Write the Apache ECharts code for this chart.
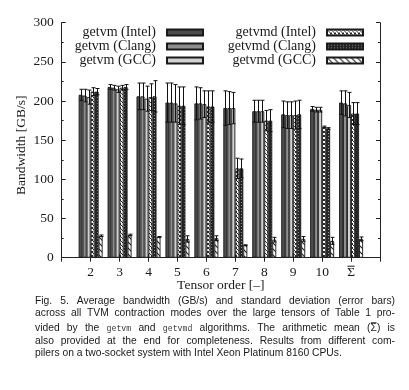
<!DOCTYPE html>
<html><head><meta charset="utf-8">
<script src="https://cdn.jsdelivr.net/npm/echarts@6/dist/echarts.min.js"></script>
<style>html,body{margin:0;padding:0;background:#fff}#c{width:409px;height:390px}</style>
</head><body><div id="c"></div>
<script>
// ---- data ----
const categories = ['2', '3', '4', '5', '6', '7', '8', '9', '10', 'Σ'];   // last one is the mean (drawn with an overline)
const seriesNames = ['getvm (Intel)', 'getvm (Clang)', 'getvm (GCC)', 'getvmd (Intel)', 'getvmd (Clang)', 'getvmd (GCC)'];
const getvmIntel      = [208, 218, 206, 198, 197, 191, 187, 183, 190, 198];
const getvmIntelErr   = [7, 3, 17, 25, 21, 22, 14, 17, 3, 15];
const getvmClang      = [207, 217, 206, 198, 197, 191, 187, 182, 189, 197];
const getvmClangErr   = [8, 3, 17, 25, 20, 21, 14, 17, 3, 16];
const getvmGCC        = [205, 215, 203, 197, 196, 191, 187, 182, 189, 195];
const getvmGCCErr     = [9, 4, 16, 24, 17, 20, 14, 17, 3, 16];
const getvmdIntel     = [212, 217, 205, 194, 193, 114, 175, 182, 167, 184];
const getvmdIntelErr  = [5, 3, 17, 24, 20, 13, 13, 18, 1, 14];
const getvmdClang     = [212, 218, 206, 194, 193, 114, 175, 183, 165, 184];
const getvmdClangErr  = [4, 3, 20, 24, 20, 12, 14, 18, 1, 14];
const getvmdGCC       = [28, 29, 26.5, 24, 25, 16, 23, 24, 21.5, 24];
const getvmdGCCErr    = [1, 1, 0.5, 4, 3, 0.5, 3, 3, 4.5, 2.5];
const yTicks = [0, 50, 100, 150, 200, 250, 300];
const captionLines = [
  'Fig. 5. Average bandwidth (GB/s) and standard deviation (error bars)',
  'across all TVM contraction modes over the large tensors of Table 1 pro-',
  'vided by the `getvm` and `getvmd` algorithms. The arithmetic mean (Σ) is',
  'also provided at the end for completeness. Results from different com-',
  'pilers on a two-socket system with Intel Xeon Platinum 8160 CPUs.'
];

// ---- styling ----
const SERIF = '"Liberation Serif", "Times New Roman", serif';
const BAR_W = 4;
const allValues = [getvmIntel, getvmClang, getvmGCC, getvmdIntel, getvmdClang, getvmdGCC];
const allErrs = [getvmIntelErr, getvmClangErr, getvmGCCErr, getvmdIntelErr, getvmdClangErr, getvmdGCCErr];

function tile(w, h, draw) {
  const c = document.createElement('canvas');
  c.width = w; c.height = h;
  const ctx = c.getContext('2d');
  draw(ctx);
  return { image: c, repeat: 'repeat' };
}
const patCross = tile(4, 4, ctx => {
  ctx.fillStyle = '#fff'; ctx.fillRect(0, 0, 4, 4);
  ctx.fillStyle = '#2a2a2a';
  [[0,0],[1,1],[2,2],[3,3],[3,0],[0,3]].forEach(p => ctx.fillRect(p[0], p[1], 1, 1));
});
const patDense = tile(3, 3, ctx => {
  ctx.fillStyle = '#262626'; ctx.fillRect(0, 0, 3, 3);
  ctx.fillStyle = '#9a9a9a'; ctx.fillRect(1, 1, 1, 1);
});
const patDiag = tile(6, 6, ctx => {
  ctx.fillStyle = '#fff'; ctx.fillRect(0, 0, 6, 6);
  ctx.strokeStyle = '#222'; ctx.lineWidth = 1.1;
  ctx.beginPath();
  ctx.moveTo(-1, -1); ctx.lineTo(7, 7);
  ctx.moveTo(-1, 5); ctx.lineTo(1, 7);
  ctx.moveTo(5, -1); ctx.lineTo(7, 1);
  ctx.stroke();
});
const fills = ['#4d4d4d', '#8e8e8e', '#d2d2d2', patCross, patDense, patDiag];

const barSeries = allValues.map((vals, k) => ({
  name: seriesNames[k],
  type: 'bar',
  barWidth: BAR_W,
  barGap: '0%',
  data: vals.map((v, i) => [i + 2, v]),
  itemStyle: { color: fills[k], borderColor: '#1a1a1a', borderWidth: 0.9 },
  emphasis: { disabled: true },
  z: 2
}));

const errData = [];
allValues.forEach((vals, k) => vals.forEach((v, i) => errData.push([i + 2, v, allErrs[k][i], k])));

const errSeries = {
  type: 'custom',
  data: errData,
  z: 5,
  silent: true,
  renderItem: (params, api) => {
    const x = api.value(0), y = api.value(1), e = api.value(2), k = api.value(3);
    const top = api.coord([x, y + e]);
    const bot = api.coord([x, y - e]);
    const cx = Math.round(top[0] + (k - 2.5) * BAR_W) + 0.5;
    const st = { stroke: '#111', lineWidth: 1 };
    return { type: 'group', children: [
      { type: 'line', shape: { x1: cx, y1: top[1], x2: cx, y2: bot[1] }, style: st },
      { type: 'line', shape: { x1: cx - 2, y1: top[1], x2: cx + 2, y2: top[1] }, style: st },
      { type: 'line', shape: { x1: cx - 2, y1: bot[1], x2: cx + 2, y2: bot[1] }, style: st }
    ]};
  }
};

const axisLineStyle = { color: '#222', width: 1 };
const labelStyle = { fontFamily: SERIF, fontSize: 13.5, color: '#1a1a1a' };

// ---- caption (justified) ----
const CAP_FONT = '10.3px "Liberation Sans", Arial, sans-serif';
const MONO_FONT = '8.2px "Liberation Mono", "Courier New", monospace';
const meas = document.createElement('canvas').getContext('2d');
function w(text, font) { meas.font = font; return meas.measureText(text).width; }
const capY = [300.7, 313.3, 328.5, 341, 353.5];
const capX0 = 35, capX1 = 395;
const graphics = [];
let gid = 0;
captionLines.forEach((line, li) => {
  const words = line.split(' ').map(t => {
    const mono = /^`.*`$/.test(t);
    return { text: mono ? t.slice(1, -1) : t, font: mono ? MONO_FONT : CAP_FONT, color: mono ? '#3a3a3a' : '#1a1a1a' };
  });
  words.forEach(o => o.w = w(o.text, o.font));
  const total = words.reduce((s, o) => s + o.w, 0);
  const justify = li < captionLines.length - 1;
  const gap = justify ? (capX1 - capX0 - total) / (words.length - 1) : w(' ', CAP_FONT);
  let x = capX0;
  words.forEach(o => {
    graphics.push({ type: 'text', id: 'cap' + (gid++), x: x, y: capY[li], silent: true,
      style: { text: o.text, font: o.font, fill: o.color, align: 'left', verticalAlign: 'middle' } });
    const si = o.text.indexOf('Σ');
    if (si >= 0) {
      const sx = x + w(o.text.slice(0, si), o.font);
      const sw = w('Σ', o.font);
      graphics.push({ type: 'line', id: 'capbar', silent: true,
        shape: { x1: sx + 0.3, y1: capY[li] - 5.8, x2: sx + sw - 0.3, y2: capY[li] - 5.8 },
        style: { stroke: '#1a1a1a', lineWidth: 0.8 } });
    }
    x += o.w + gap;
  });
});

const legendCommon = {
  orient: 'vertical', align: 'right', top: 25.5, padding: 0, icon: 'rect',
  itemWidth: 36, itemHeight: 6, itemGap: 0, selectedMode: false,
  textStyle: { fontFamily: SERIF, fontSize: 14, lineHeight: 13, color: '#1a1a1a', padding: [0, 6, 0, 0] }
};

const chart = echarts.init(document.getElementById('c'), null, { renderer: 'canvas' });
chart.setOption({
  animation: false,
  backgroundColor: '#fff',
  grid: { left: 61.7, right: 29, top: 22.7, bottom: 132.3, containLabel: false },
  legend: [
    Object.assign({ data: seriesNames.slice(0, 3), right: 205 }, legendCommon),
    Object.assign({ data: seriesNames.slice(3), right: 45 }, legendCommon)
  ],
  xAxis: [
    { type: 'value', min: 1, max: categories.length + 2, interval: 1, position: 'bottom',
      axisLine: { show: true, lineStyle: axisLineStyle },
      axisTick: { show: true, inside: true, length: 4, lineStyle: axisLineStyle },
      axisLabel: Object.assign({ margin: 8, formatter: v => categories[v - 2] || '' }, labelStyle),
      splitLine: { show: false },
      name: 'Tensor order [–]', nameLocation: 'middle', nameGap: 21, nameMoveOverlap: false,
      nameTextStyle: labelStyle },
    { type: 'value', min: 1, max: categories.length + 2, interval: 1, position: 'top',
      axisLine: { show: true, lineStyle: axisLineStyle },
      axisTick: { show: true, inside: true, length: 4, lineStyle: axisLineStyle },
      axisLabel: { show: false }, splitLine: { show: false } }
  ],
  yAxis: [
    { type: 'value', min: yTicks[0], max: yTicks[yTicks.length - 1], interval: yTicks[1] - yTicks[0], position: 'left',
      axisLine: { show: true, lineStyle: axisLineStyle },
      axisTick: { show: true, inside: true, length: 4, lineStyle: axisLineStyle },
      minorTick: { show: true, splitNumber: 2, length: 2, lineStyle: axisLineStyle },
      axisLabel: Object.assign({ margin: 8 }, labelStyle),
      splitLine: { show: false },
      name: 'Bandwidth [GB/s]', nameLocation: 'middle', nameRotate: 90, nameGap: 33, nameMoveOverlap: false,
      nameTextStyle: Object.assign({ padding: [0, 10, 0, 0] }, labelStyle) },
    { type: 'value', min: yTicks[0], max: yTicks[yTicks.length - 1], interval: yTicks[1] - yTicks[0], position: 'right',
      axisLine: { show: true, lineStyle: axisLineStyle },
      axisTick: { show: true, inside: true, length: 4, lineStyle: axisLineStyle },
      minorTick: { show: true, splitNumber: 2, length: 2, lineStyle: axisLineStyle },
      axisLabel: { show: false }, splitLine: { show: false } }
  ],
  series: barSeries.concat([errSeries]),
  graphic: { elements: graphics }
});

// overline above the mean-category tick label, placed through the axis scale
const meanPos = chart.convertToPixel({ xAxisIndex: 0, yAxisIndex: 0 }, [categories.length + 1, 0]);
const sigW = w('Σ', '13.5px ' + SERIF);
chart.setOption({ graphic: { elements: [{
  type: 'line', id: 'axisbar', silent: true,
  shape: { x1: meanPos[0] - sigW / 2 + 0.3, y1: meanPos[1] + 8.5, x2: meanPos[0] + sigW / 2 - 0.3, y2: meanPos[1] + 8.5 },
  style: { stroke: '#1a1a1a', lineWidth: 1 }
}] } });
</script>
</body></html>
